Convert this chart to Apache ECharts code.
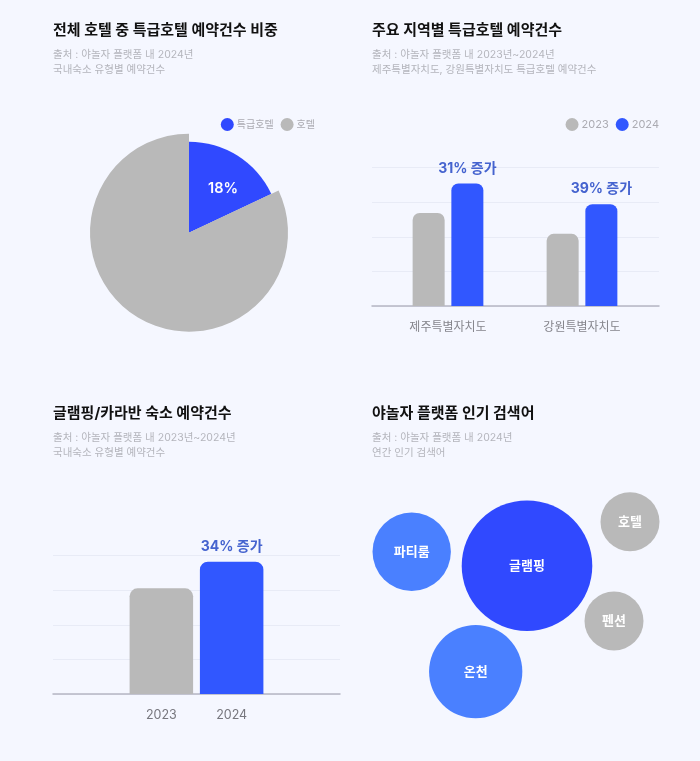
<!DOCTYPE html>
<html>
<head>
<meta charset="utf-8">
<style>
html,body{margin:0;padding:0;background:#F5F7FF;}
#chart{width:700px;height:761px;}
</style>
<script src="https://cdn.jsdelivr.net/npm/echarts@6/dist/echarts.min.js"></script>
</head>
<body>
<div id="chart"></div>
<script>
// 데이터
var pieNames = ['특급호텔', '호텔'];
var pieValues = [18, 82];

var regionNames = ['제주특별자치도', '강원특별자치도'];
var region2023 = [67.2, 52.1];
var region2024 = [88.4, 73.5];
var regionLabels = ['31% 증가', '39% 증가'];

var campYears = ['2023', '2024'];
var campValues = [76.4, 95.7];
var campLabels = ['', '34% 증가'];

var wordNames = ['글램핑', '파티룸', '온천', '호텔', '펜션'];
var wordValues = [100, 36, 51, 20.4, 20.4];
var wordX = [177, 61.7, 125.7, 280, 264];
var wordY = [85.7, 71.7, 191.7, 41.7, 141];

var FONT = 'Inter, "Noto Sans CJK KR", sans-serif';
var BLUE = '#3049FF', BAR_BLUE = '#3157FF', LIGHT_BLUE = '#4A80FF', GRAY = '#B9B9B9';
var LABEL_BLUE = '#4563CF';

function head(left, top, text, sub) {
	return {
		left: left, top: top, text: text, subtext: sub, itemGap: 7, padding: 0,
		textStyle: {fontFamily: FONT, fontSize: 15, fontWeight: 700, color: '#111', lineHeight: 20},
		subtextStyle: {fontFamily: FONT, fontSize: 10.5, color: '#B4B5BC', lineHeight: 15}
	};
}
function legend(right, names, size) {
	return {
		right: right, top: 118, data: names, icon: 'circle', itemWidth: 13, itemHeight: 13,
		itemGap: 7, padding: 0, selectedMode: false,
		textStyle: {fontFamily: FONT, fontSize: size, color: '#ABABB2', padding: [0, 0, 0, -2]}
	};
}
// 가로선, 축선만 그리는 배경 grid
function backX(i) {
	return {gridIndex: i, type: 'category', data: [''], axisTick: {show: false}, axisLabel: {show: false},
		axisLine: {lineStyle: {color: '#B5B7C4', width: 1.5}}};
}
function backY(i) {
	return {gridIndex: i, type: 'value', min: 0, max: 100, interval: 25, axisLabel: {show: false},
		axisLine: {show: false}, axisTick: {show: false}, splitLine: {lineStyle: {color: '#E8EBF6', width: 1}}};
}
function barX(i, names, color, size) {
	return {gridIndex: i, type: 'category', data: names, axisTick: {show: false}, axisLine: {show: false},
		axisLabel: {fontFamily: FONT, fontSize: size, color: color, margin: 15}};
}
function barY(i) {
	return {gridIndex: i, type: 'value', min: 0, max: 100, show: false};
}
function pctLabel(list) {
	return {show: true, position: 'top', distance: 8, fontFamily: FONT, fontSize: 14, fontWeight: 700, color: LABEL_BLUE,
		formatter: function (p) { return list[p.dataIndex]; }};
}

var option = {
	backgroundColor: '#F5F7FF',
	animation: false,
	title: [
		head(53, 20, '전체 호텔 중 특급호텔 예약건수 비중', '출처 : 야놀자 플랫폼 내 2024년\n국내숙소 유형별 예약건수'),
		head(372, 20, '주요 지역별 특급호텔 예약건수', '출처 : 야놀자 플랫폼 내 2023년~2024년\n제주특별자치도, 강원특별자치도 특급호텔 예약건수'),
		head(53, 403, '글램핑/카라반 숙소 예약건수', '출처 : 야놀자 플랫폼 내 2023년~2024년\n국내숙소 유형별 예약건수'),
		head(372, 403, '야놀자 플랫폼 인기 검색어', '출처 : 야놀자 플랫폼 내 2024년\n연간 인기 검색어')
	],
	legend: [legend(385, pieNames, 10), legend(41, ['2023', '2024'], 11)],
	grid: [
		{left: 372, top: 167.5, width: 287, height: 138.5},
		{left: 381, top: 167.5, width: 268, height: 138.5},
		{left: 53, top: 555.7, width: 287, height: 138.3},
		{left: 126.2, top: 555.7, width: 140.6, height: 138.3},
		{left: 350, top: 480, width: 350, height: 280}
	],
	xAxis: [
		backX(0), barX(1, regionNames, '#85858C', 12), backX(2), barX(3, campYears, '#77777E', 12.5),
		{gridIndex: 4, type: 'value', min: 0, max: 350, show: false}
	],
	yAxis: [
		backY(0), barY(1), backY(2), barY(3),
		{gridIndex: 4, type: 'value', min: 0, max: 280, inverse: true, show: false}
	],
	series: [
		{
			type: 'pie', radius: [0, 91], center: [189, 232.7], startAngle: 90, z: 2, silent: true,
			label: {show: false}, labelLine: {show: false},
			data: [
				{name: pieNames[0], value: pieValues[0], itemStyle: {color: BLUE},
					label: {show: true, position: 'inside', offset: [8, -3], fontFamily: FONT, fontSize: 14.5, fontWeight: 600, color: '#fff', formatter: '{c}%'}},
				{name: pieNames[1], value: pieValues[1], itemStyle: {color: GRAY}}
			]
		},
		{
			type: 'pie', radius: [0, 99], center: [189, 232.7], startAngle: 90, z: 3, silent: true,
			label: {show: false}, labelLine: {show: false},
			data: [
				{name: pieNames[0], value: pieValues[0], itemStyle: {color: 'transparent'}},
				{name: pieNames[1], value: pieValues[1], itemStyle: {color: GRAY}}
			]
		},
		{
			name: '2023', type: 'bar', xAxisIndex: 1, yAxisIndex: 1, data: region2023, barWidth: 32, barGap: '21%',
			itemStyle: {color: GRAY, borderRadius: [7, 7, 0, 0]}
		},
		{
			name: '2024', type: 'bar', xAxisIndex: 1, yAxisIndex: 1, data: region2024, barWidth: 32, barGap: '21%',
			itemStyle: {color: BAR_BLUE, borderRadius: [7, 7, 0, 0]}, label: pctLabel(regionLabels)
		},
		{
			type: 'bar', xAxisIndex: 3, yAxisIndex: 3, barWidth: 63.5, label: pctLabel(campLabels),
			data: campValues.map(function (v, i) {
				return {value: v, itemStyle: {color: i ? BAR_BLUE : GRAY, borderRadius: [8, 8, 0, 0]}};
			})
		},
		{
			type: 'scatter', xAxisIndex: 4, yAxisIndex: 4, symbol: 'circle',
			symbolSize: function (v) { return 13.06 * Math.sqrt(v[2]); },
			label: {show: true, position: 'inside', fontFamily: FONT, fontSize: 13, fontWeight: 700, color: '#fff',
				formatter: function (p) { return wordNames[p.dataIndex]; }},
			data: wordNames.map(function (n, i) {
				return {name: n, value: [wordX[i], wordY[i], wordValues[i]],
					itemStyle: {color: i == 0 ? BLUE : (i < 3 ? LIGHT_BLUE : GRAY), opacity: 1}};
			})
		}
	]
};

var chart = echarts.init(document.getElementById('chart'));
chart.setOption(option);
</script>
</body>
</html>
